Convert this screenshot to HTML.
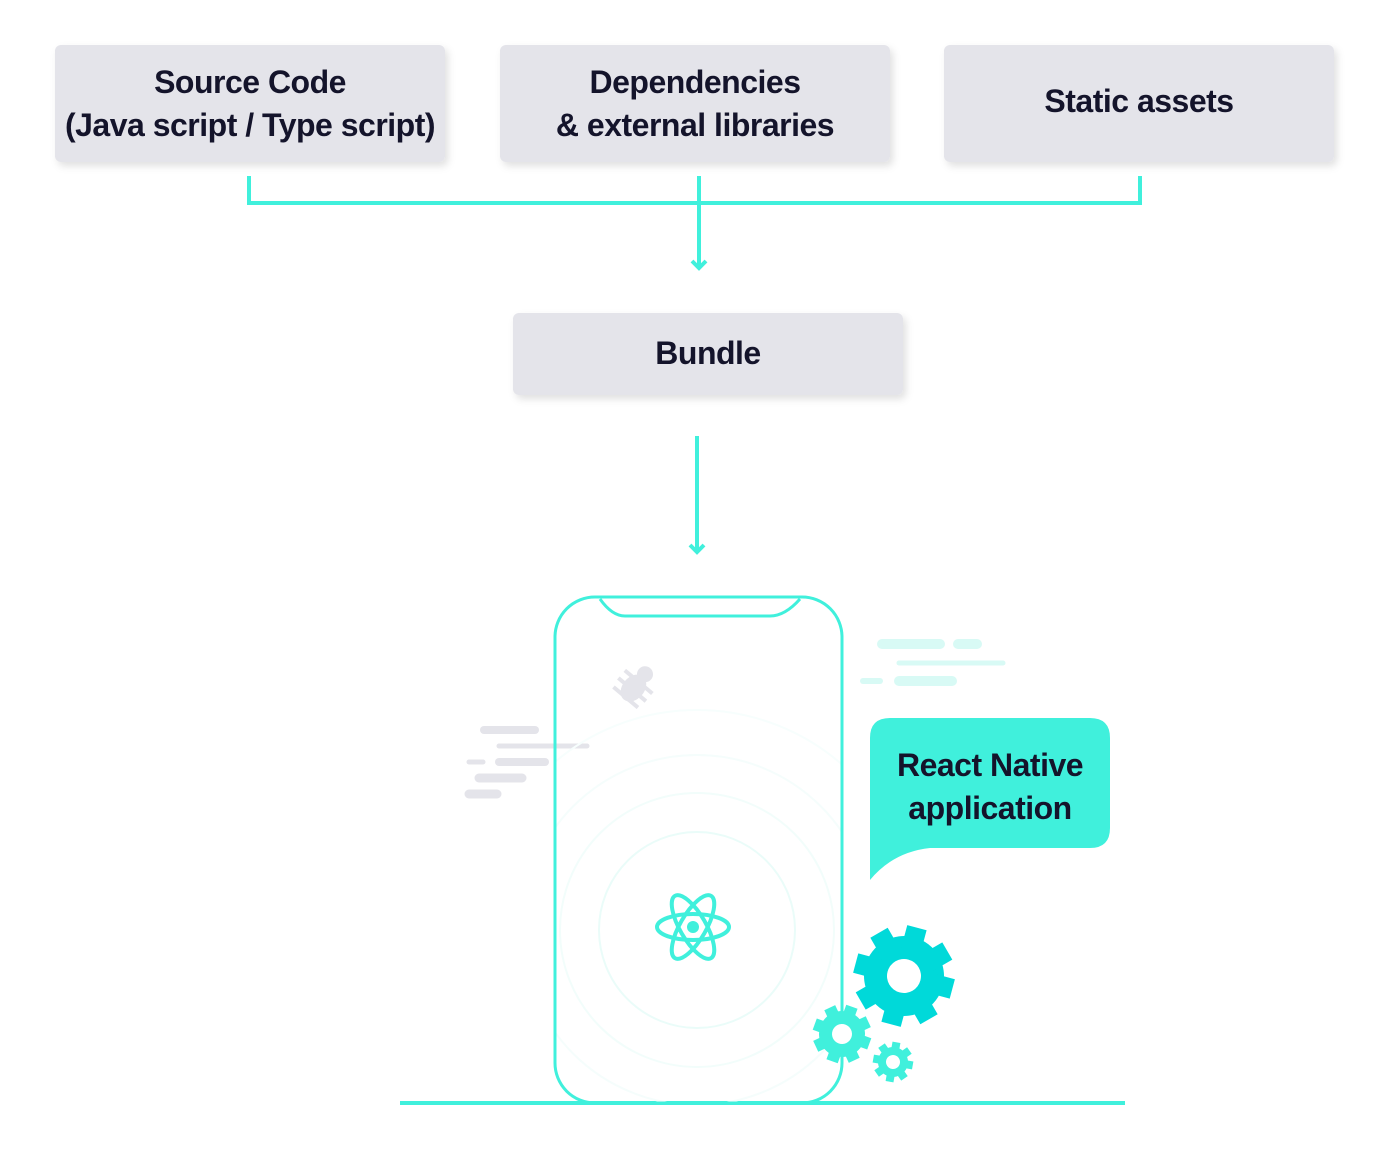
<!DOCTYPE html>
<html><head><style>
body{margin:0;background:#fff;}
svg text{font-family:"Liberation Sans",sans-serif;font-weight:bold;fill:#14142b;letter-spacing:-0.5px;}
</style></head><body>
<svg width="1400" height="1146" viewBox="0 0 1400 1146" xmlns="http://www.w3.org/2000/svg">
<defs>
<filter id="sh" x="-10%" y="-20%" width="120%" height="150%"><feDropShadow dx="3" dy="4" stdDeviation="4" flood-color="#000" flood-opacity="0.12"/></filter>
<clipPath id="ph"><rect x="555" y="597" width="287" height="506" rx="40"/></clipPath>
</defs>
<g filter="url(#sh)" fill="#e4e4ea">
<rect x="55" y="45" width="390" height="117" rx="6"/>
<rect x="500" y="45" width="390" height="117" rx="6"/>
<rect x="944" y="45" width="390" height="117" rx="6"/>
<rect x="513" y="313" width="390" height="82" rx="6"/>
</g>
<g font-size="32" text-anchor="middle">
<text x="250" y="93">Source Code</text>
<text x="250" y="136">(Java script / Type script)</text>
<text x="695" y="93">Dependencies</text>
<text x="695" y="136">&amp; external libraries</text>
<text x="1139" y="112">Static assets</text>
<text x="708" y="364">Bundle</text>
</g>
<g stroke="#40f0dc" stroke-width="4" fill="none">
<path d="M249 176V203H1140V176"/>
<path d="M699 176V266"/>
<path d="M692 261L699 268L706 261"/>
<path d="M697 436V550"/>
<path d="M690 545L697 552L704 545"/>
<line x1="400" y1="1103" x2="1125" y2="1103"/>
</g>
<g stroke-linecap="round" fill="none">
<line x1="882" y1="644" x2="940" y2="644" stroke="#d8faf5" stroke-width="10"/>
<line x1="958" y1="644" x2="977" y2="644" stroke="#d8faf5" stroke-width="10"/>
<line x1="899" y1="663" x2="1003" y2="663" stroke="#d8faf5" stroke-width="5"/>
<line x1="863" y1="681" x2="880" y2="681" stroke="#d8faf5" stroke-width="6"/>
<line x1="899" y1="681" x2="952" y2="681" stroke="#d8faf5" stroke-width="10"/>
<line x1="484" y1="730" x2="535" y2="730" stroke="#e4e4ea" stroke-width="8"/>
<line x1="499" y1="746" x2="587" y2="746" stroke="#e4e4ea" stroke-width="5"/>
<line x1="469" y1="762" x2="483" y2="762" stroke="#e4e4ea" stroke-width="5"/>
<line x1="499" y1="762" x2="545" y2="762" stroke="#e4e4ea" stroke-width="8"/>
<line x1="479" y1="778" x2="522" y2="778" stroke="#e4e4ea" stroke-width="9"/>
<line x1="469" y1="794" x2="497" y2="794" stroke="#e4e4ea" stroke-width="9"/>
</g>
<g fill="none" clip-path="url(#ph)">
<circle cx="697" cy="930" r="98" stroke="#eafcf9" stroke-width="2"/>
<circle cx="697" cy="930" r="137" stroke="#f2fdfb" stroke-width="2"/>
<circle cx="697" cy="930" r="175" stroke="#f5fdfc" stroke-width="2"/>
<circle cx="697" cy="930" r="220" stroke="#f7fefd" stroke-width="2"/>
</g>
<g fill="none">
<rect x="555" y="597" width="287" height="506" rx="40" stroke="#40f0dc" stroke-width="3"/>
<path d="M600 599Q612 616 625 616H770Q785 616 800 599" stroke="#40f0dc" stroke-width="3"/>
</g>
<g fill="#e4e4ea" transform="translate(636,685) rotate(40)">
<ellipse cx="0" cy="4" rx="11" ry="15"/>
<circle cx="0" cy="-14" r="8"/>
<g stroke="#e4e4ea" stroke-width="4"><line x1="-18" y1="-4" x2="18" y2="-4"/><line x1="-18" y1="6" x2="18" y2="6"/><line x1="-16" y1="16" x2="16" y2="16"/></g>
</g>
<g fill="none" stroke="#40f0dc" stroke-width="4" transform="translate(693,927)">
<ellipse rx="36" ry="13"/>
<ellipse rx="36" ry="13" transform="rotate(60)"/>
<ellipse rx="36" ry="13" transform="rotate(120)"/>
<circle r="6" fill="#40f0dc" stroke="none"/>
</g>
<path d="M890 718H1090Q1110 718 1110 738V828Q1110 848 1090 848H930Q893 852 870 880V738Q870 718 890 718Z" fill="#40f0dc"/>
<g font-size="32" text-anchor="middle">
<text x="990" y="776">React Native</text>
<text x="990" y="819">application</text>
</g>
<g fill="#00d9d9" transform="translate(904,976) rotate(15)">
<circle r="40"/>
<rect x="-10" y="-50" width="20" height="100"/><rect x="-10" y="-50" width="20" height="100" transform="rotate(45)"/><rect x="-10" y="-50" width="20" height="100" transform="rotate(90)"/><rect x="-10" y="-50" width="20" height="100" transform="rotate(135)"/>
<circle r="17" fill="#fff"/>
</g>
<g fill="#40f0dc" transform="translate(842,1034) rotate(20)">
<circle r="23"/>
<rect x="-6" y="-29" width="12" height="58"/><rect x="-6" y="-29" width="12" height="58" transform="rotate(45)"/><rect x="-6" y="-29" width="12" height="58" transform="rotate(90)"/><rect x="-6" y="-29" width="12" height="58" transform="rotate(135)"/>
<circle r="10" fill="#fff"/>
</g>
<g fill="#40f0dc" transform="translate(893,1062) rotate(10)">
<circle r="15"/>
<rect x="-4" y="-20" width="8" height="40"/><rect x="-4" y="-20" width="8" height="40" transform="rotate(45)"/><rect x="-4" y="-20" width="8" height="40" transform="rotate(90)"/><rect x="-4" y="-20" width="8" height="40" transform="rotate(135)"/>
<circle r="7" fill="#fff"/>
</g>
</svg>
</body></html>
